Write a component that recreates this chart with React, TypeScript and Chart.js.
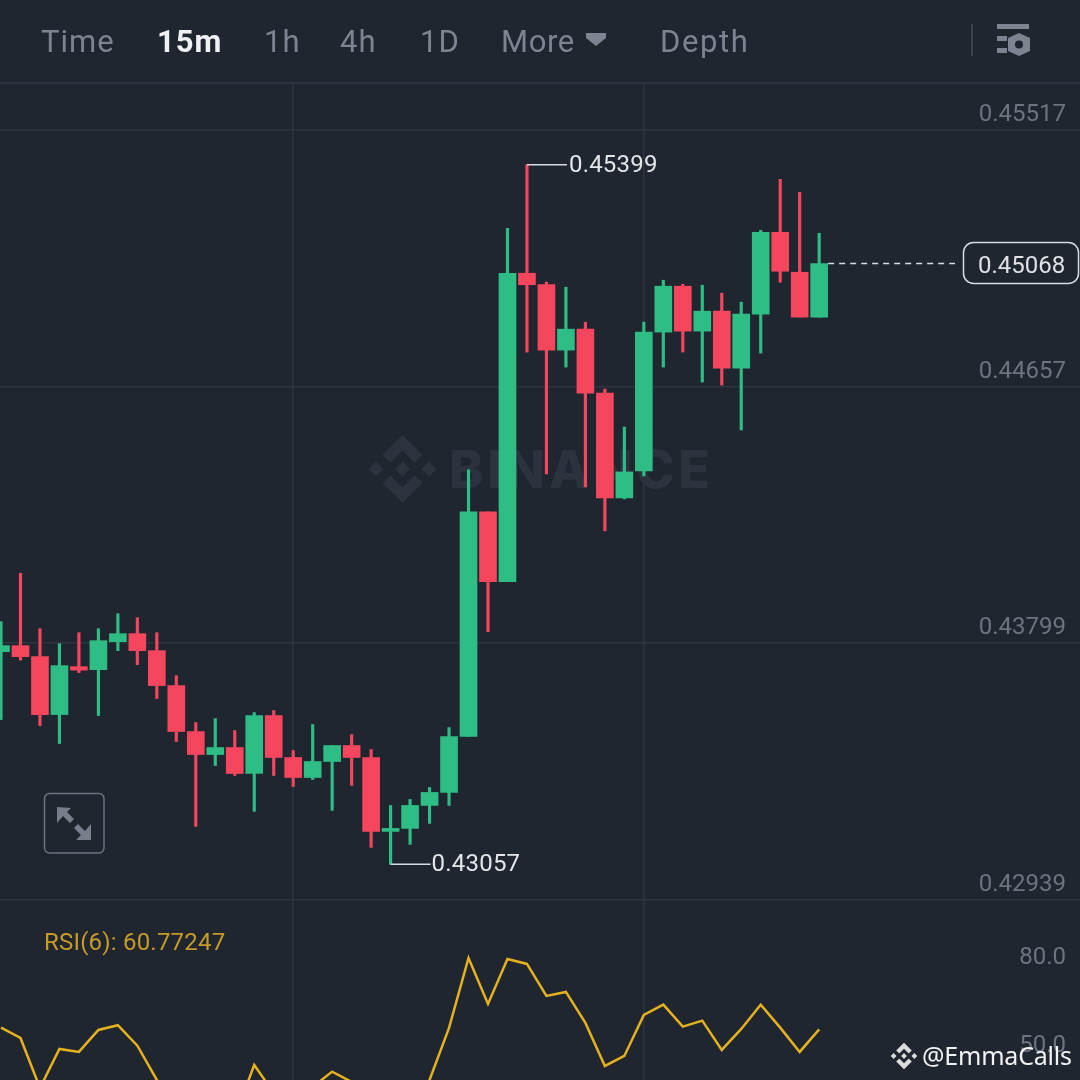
import React, { useEffect, useRef } from "react";
import { Chart, registerables } from "chart.js";

Chart.register(...registerables);

const opens = [0.437687,0.437888,0.43752,0.435581,0.437186,0.437085,0.438021,0.438289,0.437721,0.436551,0.435013,0.434244,0.434478,0.433609,0.435548,0.434144,0.433475,0.43401,0.434545,0.434144,0.43167,0.43177,0.432539,0.432974,0.434846,0.442367,0.440027,0.450356,0.449972,0.447782,0.448484,0.446345,0.442835,0.443738,0.448384,0.449922,0.448418,0.449086,0.447181,0.448986,0.451727,0.45039,0.448886];
const closes = [0.437888,0.43752,0.435581,0.437219,0.437069,0.438055,0.438289,0.437721,0.436551,0.435013,0.434244,0.434478,0.433609,0.435548,0.434144,0.433475,0.43401,0.434545,0.434144,0.43167,0.43177,0.432539,0.432974,0.434846,0.442367,0.440027,0.450356,0.449972,0.447782,0.448484,0.446345,0.442835,0.443704,0.448384,0.449922,0.448418,0.449086,0.447181,0.448986,0.451727,0.450423,0.448886,0.45068];
const highs = [0.43869,0.440311,0.438456,0.437955,0.438322,0.438456,0.438957,0.438824,0.438322,0.436885,0.435314,0.435447,0.435046,0.435648,0.435715,0.434378,0.435247,0.434545,0.434913,0.434411,0.432539,0.43274,0.433141,0.435147,0.443771,0.442367,0.451861,0.45399,0.450056,0.449888,0.448718,0.446479,0.445208,0.448718,0.450122,0.449989,0.449955,0.449688,0.449387,0.451794,0.453499,0.453064,0.451693];
const lows = [0.435414,0.437403,0.435213,0.434612,0.436985,0.435548,0.437721,0.437253,0.436116,0.434679,0.431837,0.433876,0.433542,0.432339,0.433542,0.433174,0.433408,0.432372,0.433208,0.431135,0.43057,0.431236,0.431938,0.432539,0.434846,0.438356,0.440027,0.447716,0.443637,0.447214,0.443203,0.441732,0.442802,0.44357,0.447214,0.447716,0.446713,0.446612,0.445108,0.447682,0.450056,0.448886,0.448886];
const rsi = [61.35,57.84,40.8,54.09,53.07,60.57,62.17,55.21,43.52,35,28.2,31.6,30.9,48.63,39.1,33.3,41.13,46.35,42.84,33.3,30.6,33.3,43.52,61.25,85.11,69.43,84.77,83.07,72.16,73.52,62.95,48.3,51.7,65.68,69.2,61.7,63.74,53.75,60.91,69.2,61.35,53.07,60.77];

const priceTicks = [0.45517, 0.44657, 0.43799, 0.42939];
const rsiTicks = [80, 50];
const verticalGridIndexes = [15, 33];
const headerTabs = ["Time", "15m", "1h", "4h", "1D", "More", "Depth"];
const headerTabX = [41, 157, 264, 340, 420, 501, 660];
const activeTab = "15m";
const rsiLabel = "RSI(6): 60.77247";
const highLabel = "0.45399";
const lowLabel = "0.43057";
const lastLabel = "0.45068";
const watermark = "BINANCE";
const author = "@EmmaCalls";

const BG = "#1f2630";
const GRID = "#2d343f";
const UP = "#2ebd85";
const DOWN = "#f6465d";
const MUTED = "#7c8492";
const AXIS = "#6d7480";
const LINE = "#d8dbe0";

function logo(ctx: CanvasRenderingContext2D, cx: number, cy: number, s: number, color: string) {
  const poly = (pts: number[][]) => {
    ctx.beginPath();
    pts.forEach(([a, b], i) => (i ? ctx.lineTo(cx + a * s, cy + b * s) : ctx.moveTo(cx + a * s, cy + b * s)));
    ctx.closePath();
    ctx.fill();
  };
  ctx.fillStyle = color;
  const d = 7.5;
  [[0, 0], [-26.5, 0], [26.5, 0]].forEach(([a, b]) =>
    poly([[a, b - d], [a + d, b], [a, b + d], [a - d, b]])
  );
  poly([[0, -34], [20, -14], [12, -6.5], [0, -18.5], [-12, -6.5], [-20, -14]]);
  poly([[0, 34], [20, 14], [12, 6.5], [0, 18.5], [-12, 6.5], [-20, 14]]);
}

function text(
  ctx: CanvasRenderingContext2D,
  s: string,
  x: number,
  y: number,
  font: string,
  color: string,
  spacing = 0
) {
  ctx.font = font;
  ctx.fillStyle = color;
  (ctx as any).letterSpacing = spacing + "px";
  ctx.textAlign = "left";
  ctx.textBaseline = "alphabetic";
  ctx.fillText(s, x, y);
  (ctx as any).letterSpacing = "0px";
}

const backdrop = {
  id: "backdrop",
  beforeDraw(chart: any) {
    const { ctx, width, height } = chart;
    ctx.save();
    ctx.fillStyle = BG;
    ctx.fillRect(0, 0, width, height);
    ctx.restore();
  },
  beforeDatasetsDraw(chart: any) {
    const { ctx } = chart;
    ctx.save();
    logo(ctx, 402.5, 469, 1, "#2c333e");
    text(ctx, watermark, 449, 488, "800 52px Inter", "#2c333e", 3.6);
    ctx.restore();
  },
};

const overlay = {
  id: "overlay",
  afterDraw(chart: any) {
    const { ctx } = chart;
    const sx = chart.scales.x;
    const sy = chart.scales.y;
    ctx.save();

    // header
    ctx.fillStyle = GRID;
    ctx.fillRect(0, 82, 1080, 2);
    headerTabs.forEach((t, i) => {
      const on = t === activeTab;
      const spacing = t === "Depth" ? 1.6 : t === "More" ? 0.6 : 1;
      text(ctx, t, headerTabX[i], 52, `${on ? 700 : 400} 31px Roboto`, on ? "#f0f1f3" : MUTED, spacing);
    });
    ctx.fillStyle = MUTED;
    ctx.beginPath();
    ctx.moveTo(586, 33);
    ctx.lineTo(606, 33);
    ctx.lineTo(606, 38);
    ctx.lineTo(596, 46);
    ctx.lineTo(586, 38);
    ctx.closePath();
    ctx.fill();

    // toolbar icon
    ctx.fillStyle = "#3a414c";
    ctx.fillRect(971, 24, 2, 32);
    ctx.fillStyle = MUTED;
    ctx.fillRect(997, 24, 32, 5);
    ctx.fillRect(997, 36, 10, 5);
    ctx.fillRect(997, 48, 10, 5);
    ctx.beginPath();
    ctx.moveTo(1019, 33);
    ctx.lineTo(1030, 38);
    ctx.lineTo(1030, 51);
    ctx.lineTo(1019, 56);
    ctx.lineTo(1008, 51);
    ctx.lineTo(1008, 38);
    ctx.closePath();
    ctx.fill();
    ctx.fillStyle = BG;
    ctx.beginPath();
    ctx.arc(1019, 44.5, 4, 0, Math.PI * 2);
    ctx.fill();

    // expand button
    ctx.strokeStyle = "#6b7280";
    ctx.lineWidth = 1.5;
    ctx.beginPath();
    ctx.roundRect(44.5, 793.5, 59.5, 59.5, 5);
    ctx.stroke();
    ctx.fillStyle = "#787f8c";
    const poly = (pts: number[][]) => {
      ctx.beginPath();
      pts.forEach(([a, b], i) => (i ? ctx.lineTo(a, b) : ctx.moveTo(a, b)));
      ctx.closePath();
      ctx.fill();
    };
    poly([[57, 807], [71, 808], [67, 812], [74, 819], [70, 823], [63, 816], [57, 823]]);
    poly([[91, 840], [76, 840], [81, 835], [74, 828], [78, 824], [85, 831], [91, 824]]);

    // high / low markers
    const hiI = highs.indexOf(Math.max(...highs));
    const loI = lows.indexOf(Math.min(...lows));
    const hx = sx.getPixelForValue(hiI);
    const hy = sy.getPixelForValue(highs[hiI]);
    const lx = sx.getPixelForValue(loI);
    const ly = sy.getPixelForValue(lows[loI]);
    ctx.strokeStyle = LINE;
    ctx.lineWidth = 1.5;
    ctx.beginPath();
    ctx.moveTo(hx, hy);
    ctx.lineTo(hx + 40, hy);
    ctx.moveTo(lx, ly);
    ctx.lineTo(lx + 40, ly);
    ctx.stroke();
    text(ctx, highLabel, hx + 42, hy + 7, "400 24px Roboto", "#e3e5e8", 0.2);
    text(ctx, lowLabel, lx + 41, ly + 7, "400 24px Roboto", "#e3e5e8", 0.2);

    // last price
    const last = closes.length - 1;
    const py = sy.getPixelForValue(closes[last]);
    ctx.setLineDash([6, 5]);
    ctx.beginPath();
    ctx.moveTo(sx.getPixelForValue(last) + 9, py);
    ctx.lineTo(955, py);
    ctx.stroke();
    ctx.setLineDash([]);
    ctx.beginPath();
    ctx.roundRect(963.5, 242.5, 115, 41, 10);
    ctx.stroke();
    text(ctx, lastLabel, 978, 273, "400 24px Roboto", "#dfe1e5");

    // RSI label and author mark
    text(ctx, rsiLabel, 44, 950, "400 24px Roboto", "#c89b27", 0.2);
    logo(ctx, 904, 1056, 0.39, "#dcdcdc");
    text(ctx, author, 922, 1065, "400 25px 'Noto Sans'", "#f2f2f2", -0.2);
    ctx.restore();
  },
};

// Mirrored tick labels must not take any room away from the panes.
const noRoom = (s: any) => {
  s.width = 0;
  s.paddingTop = 0;
  s.paddingBottom = 0;
  s.paddingLeft = 0;
  s.paddingRight = 0;
};

export default function App() {
  const ref = useRef<HTMLCanvasElement | null>(null);
  useEffect(() => {
    document.body.style.margin = "0";
    document.body.style.background = BG;
    const idx = opens.map((_, i) => i);
    const colors = idx.map((i) => (closes[i] >= opens[i] ? UP : DOWN));
    const chart = new Chart(ref.current as HTMLCanvasElement, {
      type: "bar",
      plugins: [backdrop, overlay],
      data: {
        datasets: [
          {
            type: "bar",
            label: "wick",
            yAxisID: "y",
            grouped: false,
            barThickness: 2.5,
            backgroundColor: colors,
            data: idx.map((i) => ({ x: i, y: [lows[i], highs[i]] })),
            order: 3,
          },
          {
            type: "bar",
            label: "body",
            yAxisID: "y",
            grouped: false,
            barThickness: 17,
            backgroundColor: colors,
            data: idx.map((i) => ({ x: i, y: [opens[i], closes[i]] })),
            order: 2,
          },
          {
            type: "line",
            label: "RSI(6)",
            yAxisID: "y2",
            borderColor: "#e5b11f",
            borderWidth: 2.5,
            pointRadius: 0,
            tension: 0,
            data: idx.map((i) => ({ x: i, y: rsi[i] })),
            order: 1,
          },
        ],
      } as any,
      options: {
        responsive: false,
        animation: false,
        layout: { padding: { top: 84, left: 0, right: 0, bottom: 0 } },
        plugins: { legend: { display: false }, tooltip: { enabled: false }, title: { display: false } },
        scales: {
          x: {
            type: "linear",
            offset: false,
            min: -0.0513,
            max: 55.39,
            afterBuildTicks: (s: any) => {
              s.ticks = verticalGridIndexes.map((value) => ({ value }));
            },
            ticks: { display: false },
            border: { display: false },
            grid: { color: GRID, lineWidth: 1.5, drawTicks: false, offset: false },
          },
          y: {
            type: "linear",
            position: "right",
            stack: "panes",
            stackWeight: 815,
            min: 0.429407,
            max: 0.456691,
            afterFit: noRoom,
            afterBuildTicks: (s: any) => {
              s.ticks = priceTicks.map((value) => ({ value }));
            },
            ticks: {
              mirror: true,
              padding: -14,
              labelOffset: -14.5,
              autoSkip: false,
              color: AXIS,
              font: { family: "Roboto", size: 24 },
              callback: (v: any) => Number(v).toFixed(5),
            },
            border: { display: false },
            grid: { color: GRID, lineWidth: 1.5, drawTicks: false },
          },
          y2: {
            type: "linear",
            position: "right",
            stack: "panes",
            stackWeight: 181,
            min: 43.5,
            max: 105.2,
            afterFit: noRoom,
            afterBuildTicks: (s: any) => {
              s.ticks = rsiTicks.map((value) => ({ value }));
            },
            ticks: {
              mirror: true,
              padding: -14,
              labelOffset: -15,
              autoSkip: false,
              color: AXIS,
              font: { family: "Roboto", size: 24 },
              callback: (v: any) => Number(v).toFixed(1),
            },
            border: { display: false },
            grid: { display: false, drawTicks: false },
          },
        },
      } as any,
    });
    return () => chart.destroy();
  }, []);
  return (
    <canvas
      ref={ref}
      width={1080}
      height={1080}
      style={{ display: "block", width: 1080, height: 1080 }}
    />
  );
}
